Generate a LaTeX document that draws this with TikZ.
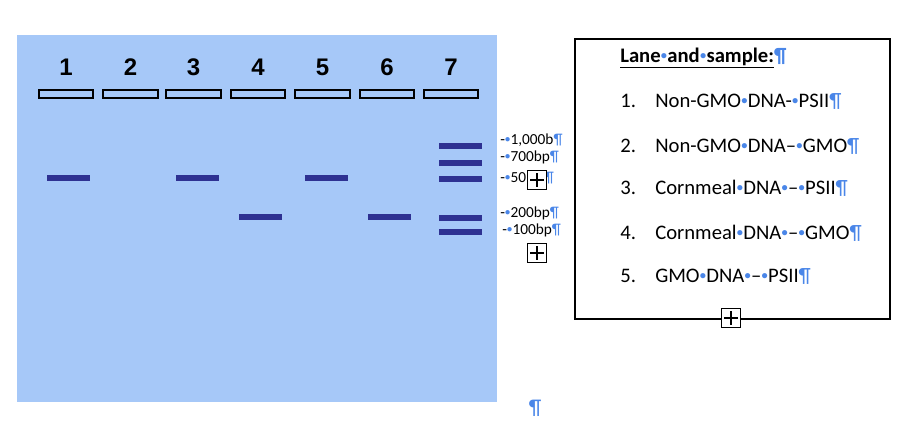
\documentclass[tikz,border=0pt]{standalone}
\usepackage{fontspec}
\setmainfont{Carlito}
\newfontfamily\arialb{Liberation Sans}
\definecolor{gel}{HTML}{A6C8F8}
\definecolor{band}{HTML}{2E3192}
\definecolor{mark}{HTML}{4A86E8}
\newcommand{\wdot}{\textcolor{mark}{\raisebox{0.12em}{\scalebox{0.7}{$\bullet$}}}}
\newcommand{\pil}{\textcolor{mark}{\P}}
\begin{document}
\begin{tikzpicture}[x=0.75pt,y=-0.75pt,
  well/.style={draw=black,line width=1.3pt,fill=gel},
  bnd/.style={line width=4pt,draw=band},
  lane/.style={font=\arialb\bfseries\fontsize{18}{18}\selectfont,inner sep=0},
  lbl/.style={font=\fontsize{11.5}{12}\selectfont,anchor=west,inner sep=0},
  item/.style={font=\fontsize{15.5}{17}\selectfont,anchor=west,inner sep=0},
  anch/.style={draw=black,fill=white,line width=0.9pt,minimum size=14pt,inner sep=0,path picture={\draw[line width=0.9pt] (path picture bounding box.north)++(0,-2pt) -- ++(0,-10pt); \draw[line width=0.9pt] (path picture bounding box.west)++(2pt,0) -- ++(10pt,0);}}]
\useasboundingbox (0,0) rectangle (910,422);
\fill[gel] (17,35) rectangle (497,402);
\foreach \n/\a/\b in {1/39/93,2/103/158,3/166/221,4/231/285,5/295/350,6/360/414,7/424/478}{
  \draw[well] (\a,90) rectangle (\b,98);
  \node[lane] (n\n) at ({(\a+\b)/2},67) {\n};
}
\foreach \a/\y in {47/178,176/178,305/178,239/217,368/217,439/146,439/163,439/179,439/218,439/232}
  \draw[bnd] (\a,\y) -- ++(43,0);
\node[lbl] (l1) at (500,140) {-\wdot1,000b\pil};
\node[lbl] (l2) at (500,157) {-\wdot700bp\pil};
\node[lbl] (l3) at (500,178) {-\wdot50\hspace{14pt}\pil};
\node[lbl] (l4) at (500,213) {-\wdot200bp\pil};
\node[lbl] (l5) at (502,230) {-\wdot100bp\pil};
\node[anch] (a1) at (537,180) {};
\node[anch] (a2) at (537,253) {};
\node[font=\fontsize{16}{16}\selectfont] (p0) at (535,408) {\pil};
\draw[line width=0.8pt] (575,39) rectangle (890,319);
\node[anch] (a3) at (731,318) {};
\node[item,font=\bfseries\fontsize{15.5}{17}\selectfont] (h) at (620,58) {\underline{Lane\wdot and\wdot sample:}\pil};
\foreach \i/\t/\y in {1/{Non-GMO\wdot DNA-\wdot PSII}/101,2/{Non-GMO\wdot DNA–\wdot GMO}/146,3/{Cornmeal\wdot DNA\wdot–\wdot PSII}/188,4/{Cornmeal\wdot DNA\wdot–\wdot GMO}/233,5/{GMO\wdot DNA\wdot–\wdot PSII}/276}{
  \node[item] (k\i) at (620,\y) {\i.};
  \node[item] (t\i) at (655,\y) {\t\pil};
}
\end{tikzpicture}
\end{document}
